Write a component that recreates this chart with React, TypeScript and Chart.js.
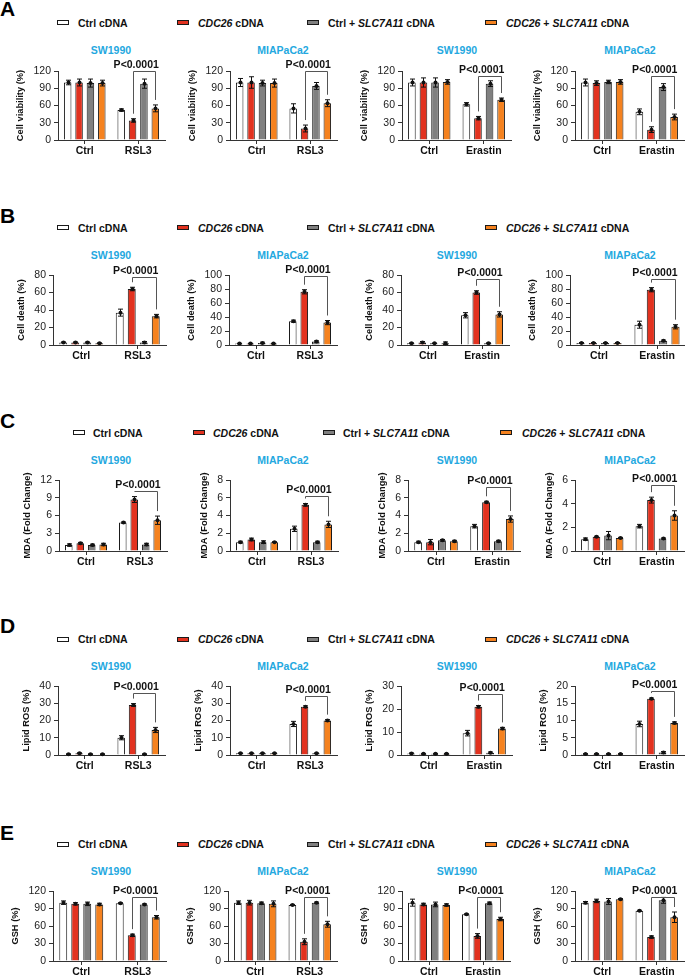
import React, { useEffect, useRef } from "react";
import { Chart, registerables } from "chart.js";

Chart.register(...registerables);

const FONT = '"Liberation Sans", Arial, Helvetica, sans-serif';

// ---------- DATA ----------
const seriesNames = ["Ctrl cDNA", "CDC26 cDNA", "Ctrl + SLC7A11 cDNA", "CDC26 + SLC7A11 cDNA"];
const seriesColors = ["#FFFFFF", "#E2321F", "#808080", "#F5821F"];
const cellLines = ["SW1990", "MIAPaCa2", "SW1990", "MIAPaCa2"];
const treatments = ["RSL3", "RSL3", "Erastin", "Erastin"];

// each panel: 4 series (Ctrl cDNA, CDC26, Ctrl+SLC7A11, CDC26+SLC7A11), each [Ctrl, drug]
const viabilityMean = [
  [[100, 52], [100, 34], [99, 98], [99, 55]],
  [[100, 55], [100, 20], [99, 94], [99, 64]],
  [[100, 62], [100, 38], [100, 98], [101, 70]],
  [[100, 49], [99, 18], [101, 92], [101, 40]],
];
const viabilitySd = [
  [[4, 2], [6, 3], [7, 8], [5, 6]],
  [[7, 8], [10, 6], [5, 6], [7, 6]],
  [[6, 3], [8, 3], [8, 5], [4, 3]],
  [[6, 5], [4, 5], [3, 6], [4, 5]],
];
const viabilityMax = [120, 120, 120, 120];
const viabilityStep = [30, 30, 30, 30];
const viabilityBracket = [120, 120, 111, 111];

const deathMean = [
  [[3, 37], [3, 64], [3, 3], [2, 33]],
  [[2, 34], [2, 76], [3, 5], [2, 32]],
  [[2, 34], [3, 60], [2, 2], [2, 35]],
  [[3, 29], [3, 79], [3, 6], [3, 26]],
];
const deathSd = [
  [[0.5, 4], [0.5, 2], [0.5, 1], [0.5, 2]],
  [[0.5, 1.5], [0.5, 3], [1, 1], [0.5, 3]],
  [[0.5, 3], [1, 2], [0.3, 0.5], [1.5, 3]],
  [[0.5, 5], [0.5, 3], [0.5, 1], [0.5, 3]],
];
const deathMax = [80, 100, 80, 100];
const deathStep = [20, 20, 20, 20];
const deathBracket = [78, 98, 75, 94];

const mdaMean = [
  [[1.0, 4.8], [1.3, 8.7], [1.0, 1.1], [1.1, 5.2]],
  [[1.0, 2.5], [1.3, 5.2], [1.0, 1.0], [1.0, 3.0]],
  [[1.0, 2.8], [1.0, 5.5], [1.2, 1.1], [1.1, 3.6]],
  [[1.0, 2.1], [1.2, 4.3], [1.3, 1.05], [1.1, 3.0]],
];
const mdaSd = [
  [[0.2, 0.1], [0.15, 0.5], [0.15, 0.2], [0.2, 0.7]],
  [[0.1, 0.3], [0.15, 0.15], [0.15, 0.1], [0.05, 0.35]],
  [[0.1, 0.2], [0.3, 0.1], [0.1, 0.1], [0.1, 0.35]],
  [[0.1, 0.15], [0.05, 0.25], [0.35, 0.05], [0.05, 0.4]],
];
const mdaMax = [12, 8, 8, 6];
const mdaStep = [3, 2, 2, 2];
const mdaBracket = [10.2, 6.2, 7.2, 5.6];

const rosMean = [
  [[0.5, 10], [1, 29], [0.5, 0.5], [0.5, 14.5]],
  [[1, 18], [1, 28], [1, 1], [1, 20]],
  [[0.7, 9.5], [0.5, 21], [0.5, 1], [0.5, 11.5]],
  [[0.3, 9], [0.3, 16.3], [0.3, 0.7], [0.3, 9.3]],
];
const rosSd = [
  [[0.2, 1.2], [0.3, 0.8], [0.2, 0.2], [0.2, 1.5]],
  [[0.2, 1.5], [0.2, 0.5], [0.2, 0.2], [0.2, 0.5]],
  [[0.2, 1.2], [0.2, 0.5], [0.2, 0.3], [0.2, 0.5]],
  [[0.1, 0.8], [0.1, 0.2], [0.1, 0.3], [0.1, 0.3]],
];
const rosMax = [40, 40, 30, 20];
const rosStep = [10, 10, 10, 5];
const rosBracket = [35.8, 34.2, 26.5, 18.6];

const gshMean = [
  [[100, 99], [98, 44], [98, 97], [97, 75]],
  [[100, 96], [100, 33], [99, 100], [98, 63]],
  [[100, 80], [97, 43], [97, 99], [96, 72]],
  [[100, 86], [103, 41], [102, 104], [106, 75]],
];
const gshSd = [
  [[3, 1], [2, 2], [3, 1], [2, 3]],
  [[3, 1], [4, 5], [2, 1], [5, 5]],
  [[6, 1], [2, 4], [4, 2], [2, 3]],
  [[2, 1], [3, 2], [5, 5], [1, 9]],
];
const gshMax = [120, 120, 120, 120];
const gshStep = [30, 30, 30, 30];
const gshBracket = [110, 110, 110, 110];

const pLabel = "P<0.0001";

// ---------- LAYOUT ----------
type RowCfg = {
  letter: string;
  yTitle: string;
  mean: number[][][];
  sd: number[][][];
  max: number[];
  step: number[];
  bracket: number[];
  plotTop: number;
  plotBottom: number;
  axisX: number[];
  groupX: number[];
  letterTop: number;
  legendY: number;
  swatchX: number[];
  textX: number[];
  titleY: number;
};

const legendSwA = [57, 177, 307, 485];
const legendTxA = [78, 198, 328, 506];
const legendSwC = [73, 193, 323, 500];
const legendTxC = [93, 213, 343, 522];
const titleX = [111, 283, 457, 630];

const rows: RowCfg[] = [
  {
    letter: "A", yTitle: "Cell viability (%)", mean: viabilityMean, sd: viabilitySd, max: viabilityMax,
    step: viabilityStep, bracket: viabilityBracket, plotTop: 71, plotBottom: 140,
    axisX: [58, 230, 402, 575], groupX: [138, 310, 484, 657], letterTop: -2, legendY: 22.5,
    swatchX: legendSwA, textX: legendTxA, titleY: 50,
  },
  {
    letter: "B", yTitle: "Cell death (%)", mean: deathMean, sd: deathSd, max: deathMax,
    step: deathStep, bracket: deathBracket, plotTop: 275, plotBottom: 345,
    axisX: [53, 229, 401, 570], groupX: [138, 310, 482, 657], letterTop: 205, legendY: 227.5,
    swatchX: legendSwA, textX: legendTxA, titleY: 255,
  },
  {
    letter: "C", yTitle: "MDA (Fold Change)", mean: mdaMean, sd: mdaSd, max: mdaMax,
    step: mdaStep, bracket: mdaBracket, plotTop: 480, plotBottom: 551,
    axisX: [59, 230, 408, 575], groupX: [140, 311, 492, 657], letterTop: 410, legendY: 432.5,
    swatchX: legendSwC, textX: legendTxC, titleY: 460,
  },
  {
    letter: "D", yTitle: "Lipid ROS (%)", mean: rosMean, sd: rosSd, max: rosMax,
    step: rosStep, bracket: rosBracket, plotTop: 686, plotBottom: 755,
    axisX: [58, 230, 401, 575], groupX: [138, 310, 484, 657], letterTop: 615, legendY: 639,
    swatchX: legendSwA, textX: legendTxA, titleY: 666,
  },
  {
    letter: "E", yTitle: "GSH (%)", mean: gshMean, sd: gshSd, max: gshMax,
    step: gshStep, bracket: gshBracket, plotTop: 891, plotBottom: 961,
    axisX: [53, 228, 402, 575], groupX: [138, 310, 483, 657], letterTop: 822, legendY: 844,
    swatchX: legendSwA, textX: legendTxA, titleY: 871,
  },
];

const PAD_TOP = 24;
const X_H = 20;
const PAD_RIGHT = 6;

function makeOverlay(mean: number[][], sd: number[][], bracketVal: number) {
  return {
    id: "overlay",
    afterDatasetsDraw(chart: any) {
      const ctx = chart.ctx as CanvasRenderingContext2D;
      const y = chart.scales.y;
      ctx.save();
      for (let d = 0; d < mean.length; d++) {
        const meta = chart.getDatasetMeta(d);
        meta.data.forEach((bar: any, j: number) => {
          const m = mean[d][j];
          const s = sd[d][j];
          const x = Math.round(bar.x) + 0.5;
          const yt = y.getPixelForValue(m + s);
          const yb = y.getPixelForValue(Math.max(0, m - s));
          ctx.strokeStyle = "#111";
          ctx.lineWidth = 1;
          ctx.beginPath();
          ctx.moveTo(x, yt);
          ctx.lineTo(x, yb);
          ctx.moveTo(x - 2.5, yt);
          ctx.lineTo(x + 2.5, yt);
          ctx.moveTo(x - 2.5, yb);
          ctx.lineTo(x + 2.5, yb);
          ctx.stroke();
          ctx.fillStyle = "#111";
          ctx.beginPath();
          ctx.arc(x, y.getPixelForValue(m), 2, 0, Math.PI * 2);
          ctx.fill();
        });
      }
      const r = chart.getDatasetMeta(1).data[1];
      const o = chart.getDatasetMeta(3).data[1];
      const by = Math.round(y.getPixelForValue(bracketVal)) + 0.5;
      const ly = y.getPixelForValue(mean[1][1] + sd[1][1]) - 5;
      const ry = y.getPixelForValue(mean[3][1] + sd[3][1]) - 5;
      const rx = Math.round(r.x) + 0.5;
      const ox = Math.round(o.x) + 0.5;
      ctx.strokeStyle = "#555";
      ctx.lineWidth = 1;
      ctx.beginPath();
      ctx.moveTo(rx, ly);
      ctx.lineTo(rx, by);
      ctx.lineTo(ox, by);
      ctx.lineTo(ox, ry);
      ctx.stroke();
      ctx.font = `bold 10.5px ${FONT}`;
      ctx.textAlign = "center";
      ctx.textBaseline = "alphabetic";
      ctx.fillStyle = "#111";
      const gx = chart.scales.x.getPixelForValue(1);
      ctx.fillText(pLabel, gx - 2, by - 4);
      ctx.restore();
    },
  };
}

function Panel({ row, p }: { row: RowCfg; p: number }) {
  const ref = useRef<HTMLCanvasElement>(null);
  const max = row.max[p];
  const labelW = String(max).length * 5.84;
  const YW = Math.round(25.5 + labelW);
  const L = row.axisX[p];
  const w = Math.round((row.groupX[p] - L) / 0.75);
  const canvasLeft = L - YW;
  const canvasW = YW + w + PAD_RIGHT;
  const plotH = row.plotBottom - row.plotTop;
  const canvasTop = row.plotTop - PAD_TOP;
  const canvasH = PAD_TOP + plotH + X_H;

  useEffect(() => {
    if (!ref.current) return;
    const mean = row.mean[p];
    const sd = row.sd[p];
    const chart = new Chart(ref.current, {
      type: "bar",
      data: {
        labels: ["Ctrl", treatments[p]],
        datasets: seriesNames.map((name, i) => ({
          label: name,
          data: mean[i],
          backgroundColor: seriesColors[i],
          borderColor: "#1a1a1a",
          borderWidth: 1,
          barPercentage: 0.66,
          categoryPercentage: 0.85,
        })),
      },
      options: {
        responsive: false,
        animation: false,
        devicePixelRatio: 1,
        events: [],
        layout: { padding: { top: PAD_TOP, right: PAD_RIGHT, bottom: 0, left: 0 } },
        plugins: {
          legend: { display: false },
          tooltip: { enabled: false },
          title: { display: false },
        },
        scales: {
          x: {
            type: "category",
            offset: true,
            afterFit: (s: any) => {
              s.height = X_H;
            },
            grid: { offset: false, drawOnChartArea: false, drawTicks: true, tickLength: 4, color: "#333", lineWidth: 1 },
            border: { display: true, color: "#333", width: 1 },
            ticks: { font: { family: FONT, size: 10.5, weight: "bold" }, color: "#111", padding: 1, maxRotation: 0, autoSkip: false },
          },
          y: {
            min: 0,
            max: max,
            afterFit: (s: any) => {
              s.width = YW;
            },
            ticks: { stepSize: row.step[p], autoSkip: false, font: { family: FONT, size: 10.5 }, color: "#222", padding: 3 },
            grid: { drawOnChartArea: false, drawTicks: true, tickLength: 4, color: "#333", lineWidth: 1 },
            border: { display: true, color: "#333", width: 1 },
            title: {
              display: true,
              text: row.yTitle,
              font: { family: FONT, size: 9.3, weight: "bold" },
              color: "#111",
              padding: 0,
            },
          },
        },
      },
      plugins: [makeOverlay(mean, sd, row.bracket[p])],
    } as any);
    return () => chart.destroy();
  }, []);

  return (
    <canvas
      ref={ref}
      width={canvasW}
      height={canvasH}
      style={{ position: "absolute", left: canvasLeft, top: canvasTop, width: canvasW, height: canvasH }}
    />
  );
}

function LegendLabel({ i }: { i: number }) {
  if (i === 0) return <span>Ctrl cDNA</span>;
  if (i === 1) return <span><i>CDC26</i> cDNA</span>;
  if (i === 2) return <span>Ctrl + <i>SLC7A11</i> cDNA</span>;
  return <span><i>CDC26</i> + <i>SLC7A11</i> cDNA</span>;
}

function Row({ row }: { row: RowCfg }) {
  return (
    <>
      <div
        style={{
          position: "absolute", left: 0, top: row.letterTop, fontSize: 21, lineHeight: "21px",
          fontWeight: "bold", fontFamily: FONT, color: "#000",
        }}
      >
        {row.letter}
      </div>
      {seriesNames.map((_, i) => (
        <React.Fragment key={i}>
          <div
            style={{
              position: "absolute", left: row.swatchX[i], top: row.legendY - 2.5, width: 12, height: 5,
              boxSizing: "border-box", border: "1px solid #1a1a1a", background: seriesColors[i],
            }}
          />
          <div
            style={{
              position: "absolute", left: row.textX[i], top: row.legendY - 7, lineHeight: "14px",
              fontSize: 10.5, fontWeight: "bold", fontFamily: FONT, color: "#111", whiteSpace: "nowrap",
            }}
          >
            <LegendLabel i={i} />
          </div>
        </React.Fragment>
      ))}
      {cellLines.map((cl, p) => (
        <div
          key={"t" + p}
          style={{
            position: "absolute", left: titleX[p] - 50, width: 100, top: row.titleY - 7, lineHeight: "14px",
            textAlign: "center", fontSize: 10.5, fontWeight: "bold", fontFamily: FONT, color: "#24A8E0",
          }}
        >
          {cl}
        </div>
      ))}
      {cellLines.map((_, p) => (
        <Panel key={"p" + p} row={row} p={p} />
      ))}
    </>
  );
}

export default function App() {
  return (
    <div style={{ position: "absolute", left: 0, top: 0, width: 685, height: 978, background: "#fff", overflow: "hidden" }}>
      {rows.map((r) => (
        <Row key={r.letter} row={r} />
      ))}
    </div>
  );
}
